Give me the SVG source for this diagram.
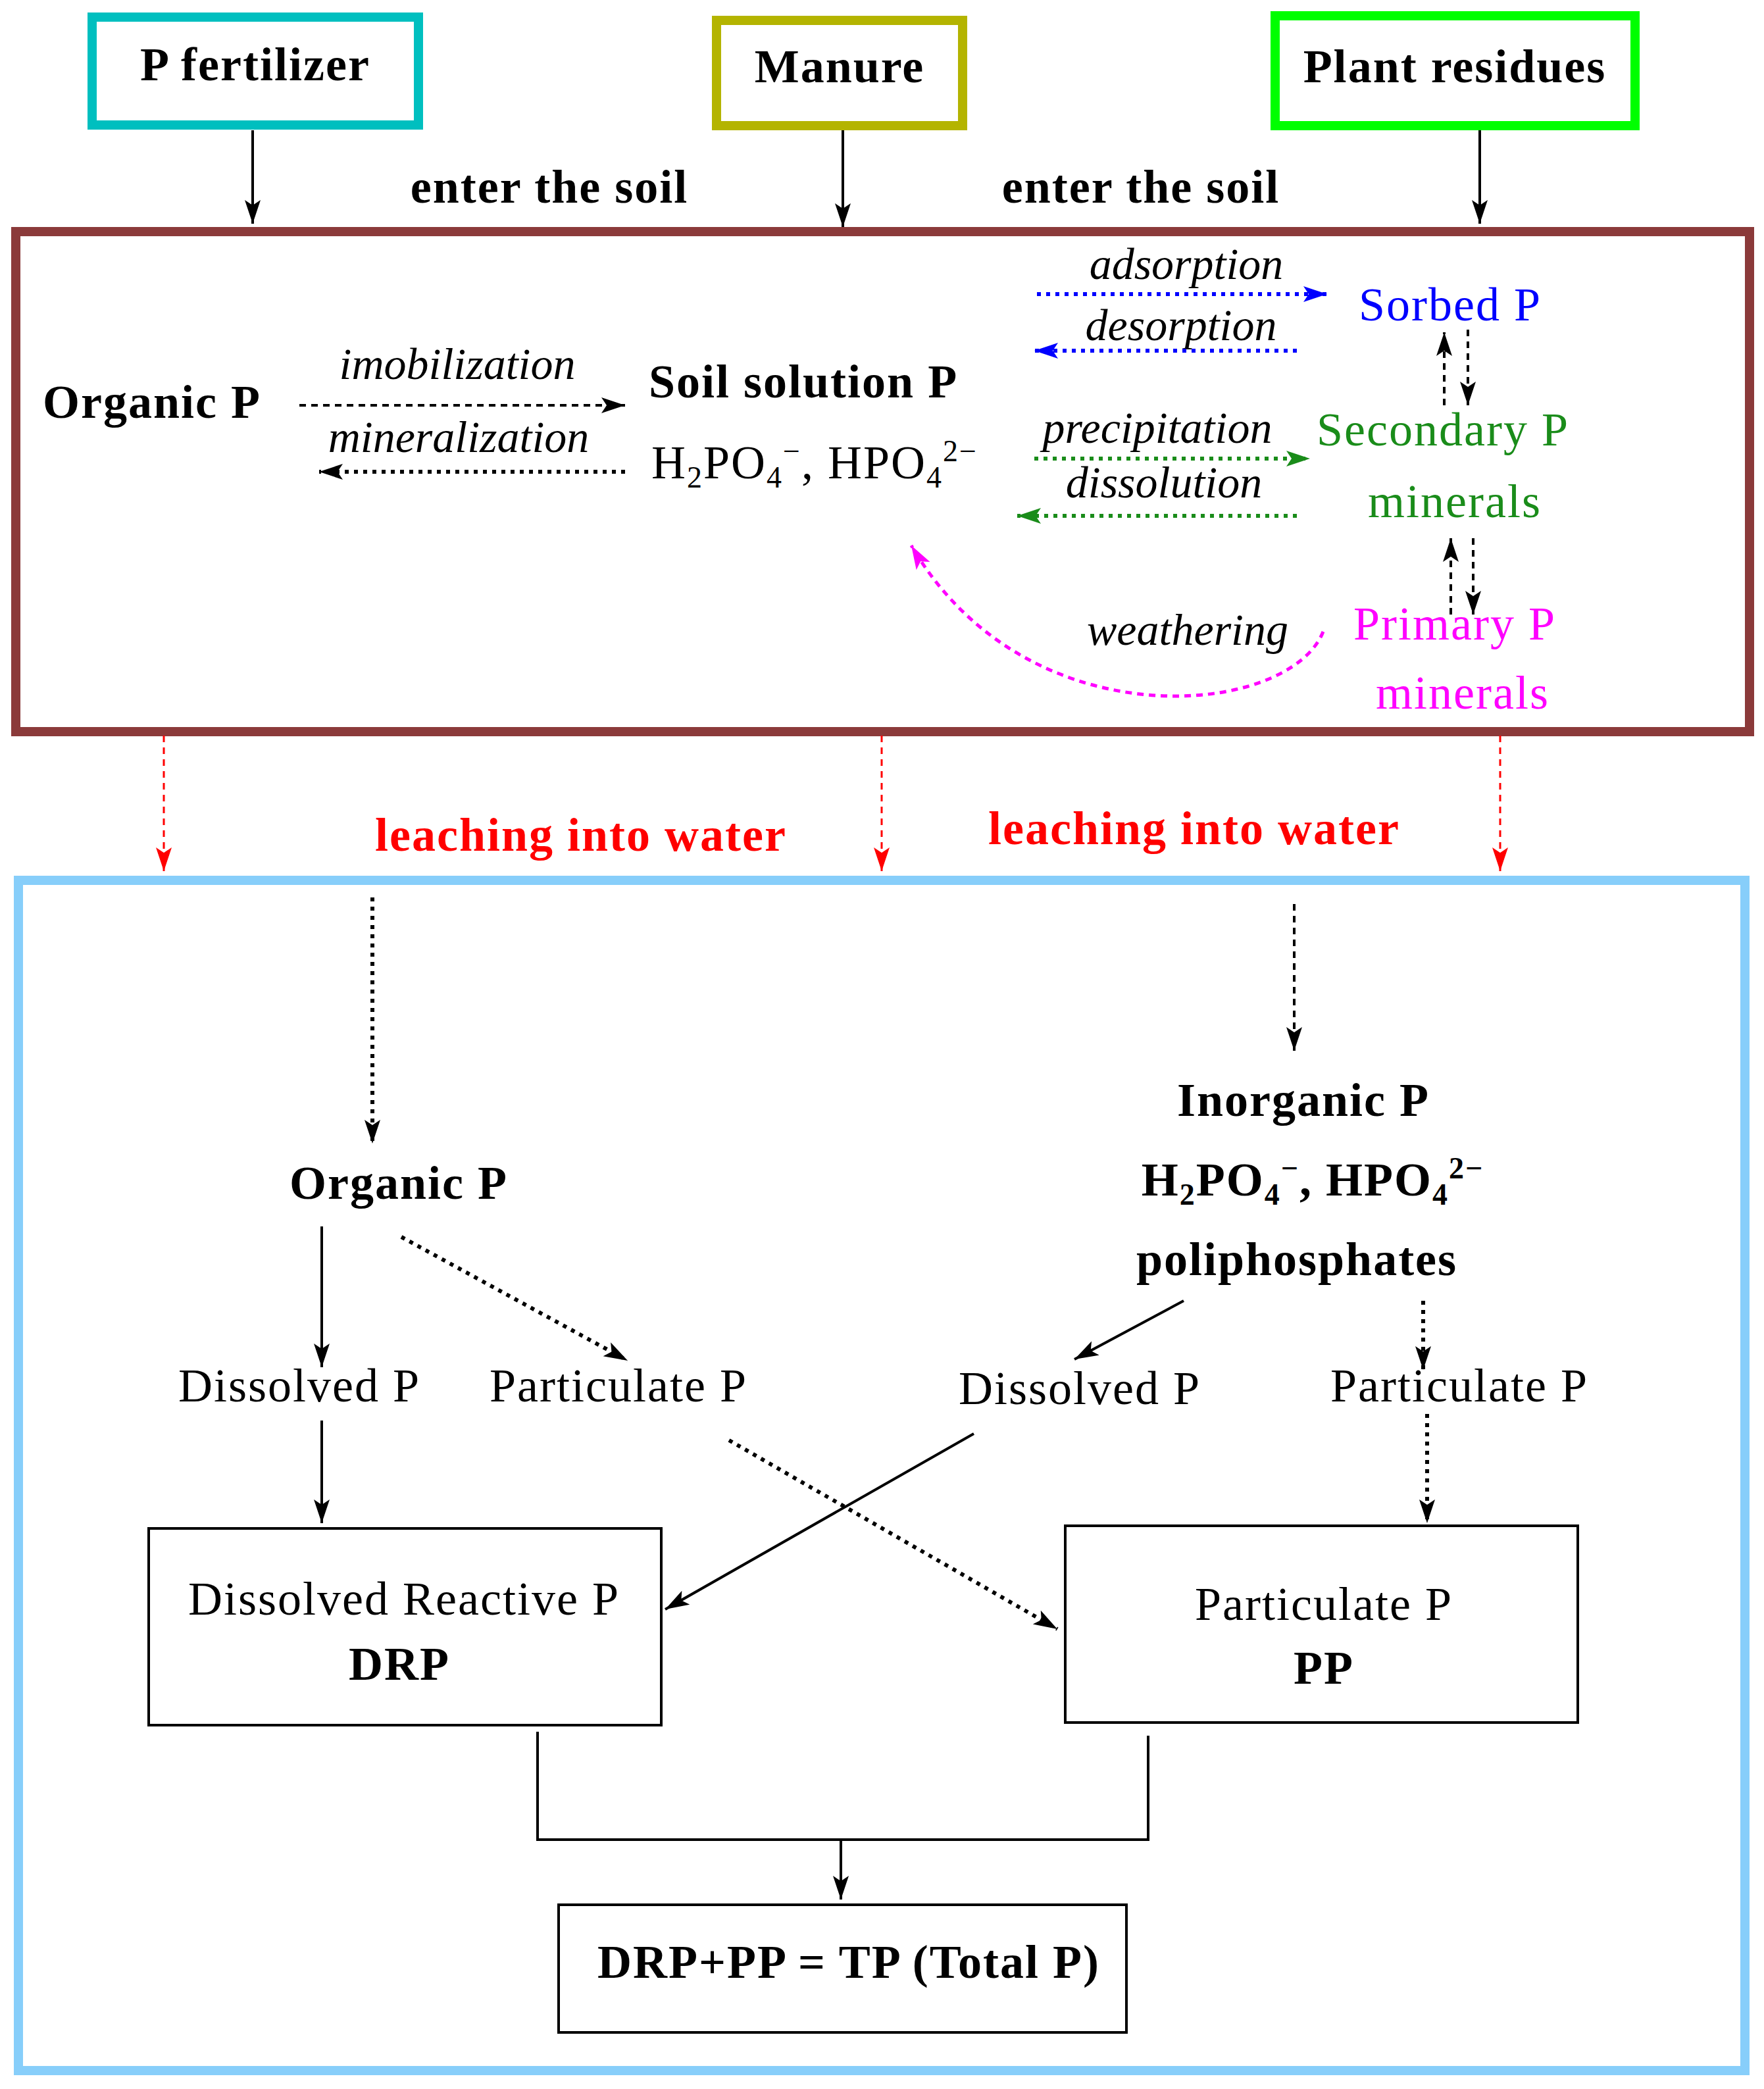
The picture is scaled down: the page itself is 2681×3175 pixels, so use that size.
<svg xmlns="http://www.w3.org/2000/svg" width="2681" height="3175" viewBox="0 0 2681 3175">
<style>
text{font-family:"Liberation Serif","DejaVu Serif",serif;font-size:72px;letter-spacing:2px;fill:#000}
.b{font-weight:bold}
.i{font-style:italic;font-size:68px;letter-spacing:0}
.c{text-anchor:middle}
.s{stroke:#000;stroke-width:4;fill:none}
.d{stroke-dasharray:10 8}
.dt{stroke-dasharray:6 8;stroke-width:6}
</style>
<defs>
<marker id="ak" markerUnits="userSpaceOnUse" markerWidth="40" markerHeight="30" refX="36" refY="12" orient="auto"><path d="M0,0 L36,12 L0,24 L8,12 Z" fill="#000"/></marker>
<marker id="ab" markerUnits="userSpaceOnUse" markerWidth="40" markerHeight="30" refX="36" refY="12" orient="auto"><path d="M0,0 L36,12 L0,24 L8,12 Z" fill="#0000ff"/></marker>
<marker id="ag" markerUnits="userSpaceOnUse" markerWidth="40" markerHeight="30" refX="36" refY="12" orient="auto"><path d="M0,0 L36,12 L0,24 L8,12 Z" fill="#1a8c1a"/></marker>
<marker id="am" markerUnits="userSpaceOnUse" markerWidth="40" markerHeight="30" refX="36" refY="12" orient="auto"><path d="M0,0 L36,12 L0,24 L8,12 Z" fill="#ff00ff"/></marker>
<marker id="ar" markerUnits="userSpaceOnUse" markerWidth="40" markerHeight="30" refX="36" refY="12" orient="auto"><path d="M0,0 L36,12 L0,24 L8,12 Z" fill="#ff0000"/></marker>
</defs>
<g id="soil"><rect x="24" y="352" width="2635" height="760" fill="none" stroke="#8b3a3a" stroke-width="14"/></g>
<g id="water"><rect x="28" y="1338" width="2624" height="1809" fill="none" stroke="#87cefa" stroke-width="14"/></g>
<g id="pfert"><rect x="140" y="26" width="496" height="164" fill="#fff" stroke="#00bfbf" stroke-width="14"/><text x="388" y="122" class="b c">P fertilizer</text></g>
<g id="manure"><rect x="1089" y="31" width="374" height="160" fill="#fff" stroke="#b4b400" stroke-width="14"/><text x="1276" y="125" class="b c">Manure</text></g>
<g id="plant"><rect x="1938" y="24" width="547" height="167" fill="#fff" stroke="#00ff00" stroke-width="14"/><text x="2211" y="125" class="b c">Plant residues</text></g>
<g id="labels">
<text x="835" y="308" class="b c">enter the soil</text>
<text x="1734" y="308" class="b c">enter the soil</text>
<text x="65" y="635" class="b">Organic P</text>
<text x="695" y="576" class="i c">imobilization</text>
<text x="697" y="687" class="i c">mineralization</text>
<text x="986" y="604" class="b">Soil solution P</text>
<text x="990" y="727">H<tspan font-size="46" dy="14">2</tspan><tspan dy="-14">PO</tspan><tspan font-size="46" dy="14">4</tspan><tspan font-size="46" dy="-40">−</tspan><tspan dy="26">, HPO</tspan><tspan font-size="46" dy="14">4</tspan><tspan font-size="46" dy="-40">2−</tspan></text>
<text x="1803" y="424" class="i c">adsorption</text>
<text x="1795" y="517" class="i c">desorption</text>
<text x="1759" y="673" class="i c">precipitation</text>
<text x="1769" y="756" class="i c">dissolution</text>
<text x="1805" y="980" class="i c">weathering</text>
<text x="2065" y="487" style="fill:#0000ff">Sorbed P</text>
<text x="2001" y="677" style="fill:#1a8c1a">Secondary P</text>
<text x="2211" y="786" class="c" style="fill:#1a8c1a">minerals</text>
<text x="2057" y="972" style="fill:#ff00ff">Primary P</text>
<text x="2223" y="1077" class="c" style="fill:#ff00ff">minerals</text>
<text x="883" y="1293" class="b c" style="fill:#ff0000">leaching into water</text>
<text x="1815" y="1283" class="b c" style="fill:#ff0000">leaching into water</text>
<text x="606" y="1822" class="b c">Organic P</text>
<text x="1981" y="1696" class="b c">Inorganic P</text>
<text x="1995" y="1817" class="b c">H<tspan font-size="46" dy="14">2</tspan><tspan dy="-14">PO</tspan><tspan font-size="46" dy="14">4</tspan><tspan font-size="46" dy="-40">−</tspan><tspan dy="26">, HPO</tspan><tspan font-size="46" dy="14">4</tspan><tspan font-size="46" dy="-40">2−</tspan></text>
<text x="1971" y="1938" class="b c">poliphosphates</text>
<text x="455" y="2130" class="c">Dissolved P</text>
<text x="940" y="2130" class="c">Particulate P</text>
<text x="1641" y="2134" class="c">Dissolved P</text>
<text x="2218" y="2130" class="c">Particulate P</text>
</g>
<g id="drp"><rect x="226" y="2323" width="779" height="299" fill="none" stroke="#000" stroke-width="4"/><text x="614" y="2454" class="c">Dissolved Reactive P</text><text x="607" y="2553" class="b c">DRP</text></g>
<g id="pp"><rect x="1619" y="2319" width="779" height="299" fill="none" stroke="#000" stroke-width="4"/><text x="2012" y="2462" class="c">Particulate P</text><text x="2012" y="2559" class="b c">PP</text></g>
<g id="tp"><rect x="849" y="2895" width="863" height="194" fill="none" stroke="#000" stroke-width="4"/><text x="1290" y="3006" class="b c">DRP+PP = TP (Total P)</text></g>
<g id="connectors">
<line x1="384" y1="198" x2="384" y2="340" class="s" marker-end="url(#ak)"/>
<line x1="1281" y1="198" x2="1281" y2="345" class="s" marker-end="url(#ak)"/>
<line x1="2249" y1="198" x2="2249" y2="340" class="s" marker-end="url(#ak)"/>
<line x1="455" y1="616" x2="950" y2="616" class="s d" marker-end="url(#ak)"/>
<line x1="950" y1="717" x2="485" y2="717" class="s dt" marker-end="url(#ak)"/>
<line x1="1576" y1="447" x2="2017" y2="447" class="s dt" style="stroke:#0000ff" marker-end="url(#ab)"/>
<line x1="1971" y1="533" x2="1572" y2="533" class="s dt" style="stroke:#0000ff" marker-end="url(#ab)"/>
<line x1="1572" y1="697" x2="1991" y2="697" class="s dt" style="stroke:#1a8c1a" marker-end="url(#ag)"/>
<line x1="1971" y1="784" x2="1546" y2="784" class="s dt" style="stroke:#1a8c1a" marker-end="url(#ag)"/>
<line x1="2195" y1="616" x2="2195" y2="505" class="s d" marker-end="url(#ak)"/>
<line x1="2231" y1="501" x2="2231" y2="616" class="s d" marker-end="url(#ak)"/>
<line x1="2205" y1="934" x2="2205" y2="818" class="s d" marker-end="url(#ak)"/>
<line x1="2239" y1="818" x2="2239" y2="934" class="s d" marker-end="url(#ak)"/>
<path d="M2011,960 C1960,1090 1560,1130 1385,829" class="s d" style="stroke:#ff00ff;stroke-width:5" marker-end="url(#am)"/>
<line x1="249" y1="1118" x2="249" y2="1324" class="s d" style="stroke:#ff0000;stroke-width:3" marker-end="url(#ar)"/>
<line x1="1340" y1="1118" x2="1340" y2="1324" class="s d" style="stroke:#ff0000;stroke-width:3" marker-end="url(#ar)"/>
<line x1="2280" y1="1118" x2="2280" y2="1324" class="s d" style="stroke:#ff0000;stroke-width:3" marker-end="url(#ar)"/>
<line x1="566" y1="1364" x2="566" y2="1738" class="s dt" marker-end="url(#ak)"/>
<line x1="1967" y1="1374" x2="1967" y2="1597" class="s d" marker-end="url(#ak)"/>
<line x1="489" y1="1864" x2="489" y2="2078" class="s" marker-end="url(#ak)"/>
<line x1="610" y1="1880" x2="954" y2="2068" class="s dt" marker-end="url(#ak)"/>
<line x1="1799" y1="1977" x2="1633" y2="2066" class="s" marker-end="url(#ak)"/>
<line x1="2163" y1="1977" x2="2163" y2="2082" class="s dt" marker-end="url(#ak)"/>
<line x1="489" y1="2159" x2="489" y2="2315" class="s" marker-end="url(#ak)"/>
<line x1="1480" y1="2179" x2="1011" y2="2446" class="s" marker-end="url(#ak)"/>
<line x1="1108" y1="2189" x2="1607" y2="2476" class="s dt" marker-end="url(#ak)"/>
<line x1="2169" y1="2149" x2="2169" y2="2315" class="s dt" marker-end="url(#ak)"/>
<polyline points="817,2632 817,2796 1745,2796 1745,2638" class="s"/>
<line x1="1278" y1="2796" x2="1278" y2="2887" class="s" marker-end="url(#ak)"/>
</g>
</svg>
